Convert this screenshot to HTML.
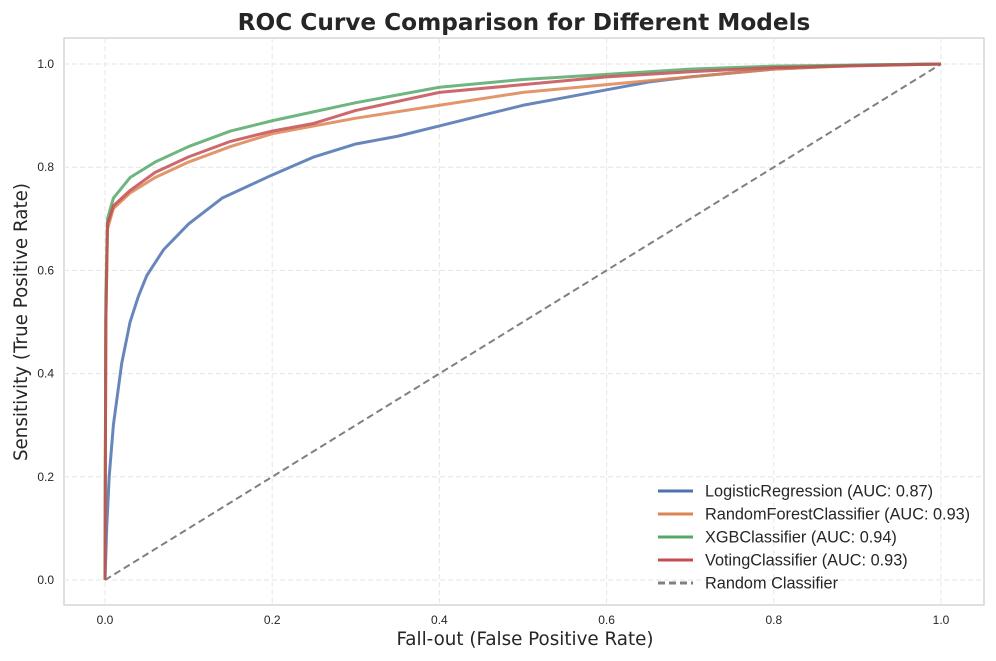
<!DOCTYPE html>
<html><head><meta charset="utf-8"><style>
body{margin:0;background:#fff;font-family:"Liberation Sans",sans-serif}
</style></head><body>
<svg id="c" width="996" height="656" xmlns="http://www.w3.org/2000/svg">
<text x="524" y="30" text-anchor="middle" font-size="23.2" font-weight="bold" fill="#262626" font-family="DejaVu Sans, sans-serif">ROC Curve Comparison for Different Models</text>
<rect x="64" y="38" width="920" height="567" fill="#fff" stroke="#cccccc" stroke-width="1.2"/>
<g id="grid"></g><g id="ticks"></g><g id="series"></g>
<text x="525" y="645" text-anchor="middle" font-size="18.3" fill="#262626" font-family="DejaVu Sans, sans-serif">Fall-out (False Positive Rate)</text>
<text transform="translate(27,322) rotate(-90)" text-anchor="middle" font-size="18.3" fill="#262626" font-family="DejaVu Sans, sans-serif">Sensitivity (True Positive Rate)</text>
<g id="legend"></g>
</svg>
<script>
const xTicks=[0,0.2,0.4,0.6,0.8,1.0];
const yTicks=[0,0.2,0.4,0.6,0.8,1.0];
const names=["LogisticRegression (AUC: 0.87)","RandomForestClassifier (AUC: 0.93)","XGBClassifier (AUC: 0.94)","VotingClassifier (AUC: 0.93)"];
const colors=["#4c72b0","#dd8452","#55a868","#c44e52"];
const lrFpr=[0,0.002,0.005,0.01,0.02,0.03,0.04,0.05,0.07,0.1,0.14,0.2,0.25,0.3,0.35,0.4,0.45,0.5,0.55,0.6,0.65,0.7,0.8,0.9,1];
const lrTpr=[0,0.1,0.2,0.3,0.42,0.5,0.55,0.59,0.64,0.69,0.74,0.785,0.82,0.845,0.86,0.88,0.9,0.92,0.935,0.95,0.965,0.975,0.99,0.998,1];
const rfFpr=[0,0.001,0.003,0.01,0.03,0.06,0.1,0.15,0.2,0.3,0.4,0.5,0.6,0.7,0.8,0.9,1];
const rfTpr=[0,0.5,0.68,0.72,0.75,0.78,0.81,0.84,0.865,0.895,0.92,0.945,0.96,0.975,0.99,0.997,1];
const xgFpr=[0,0.001,0.003,0.01,0.03,0.06,0.1,0.15,0.2,0.3,0.4,0.5,0.6,0.7,0.8,1];
const xgTpr=[0,0.55,0.7,0.74,0.78,0.81,0.84,0.87,0.89,0.925,0.955,0.97,0.98,0.99,0.996,1];
const vcFpr=[0,0.001,0.003,0.01,0.03,0.06,0.1,0.15,0.2,0.25,0.3,0.4,0.5,0.6,0.7,0.8,1];
const vcTpr=[0,0.5,0.69,0.725,0.755,0.79,0.82,0.85,0.87,0.885,0.91,0.945,0.96,0.975,0.985,0.993,1];
const randX=[0,1], randY=[0,1];
const NS="http://www.w3.org/2000/svg";
const X=v=>105+v*836, Y=v=>580-v*516;
function mk(t,a,p){const e=document.createElementNS(NS,t);for(const k in a)e.setAttribute(k,a[k]);document.getElementById(p).appendChild(e);return e;}
xTicks.forEach(t=>{const l=mk('line',{x1:X(t),x2:X(t),y1:38,y2:605,stroke:'#e5e5e5','stroke-dasharray':'5,3'},'grid');

const tx=mk('text',{x:X(t),y:624,'text-anchor':'middle','font-size':12,fill:'#262626'},'ticks');tx.textContent=t.toFixed(1);
});
yTicks.forEach(t=>{const l=mk('line',{x1:64,x2:984,y1:Y(t),y2:Y(t),stroke:'#e5e5e5','stroke-dasharray':'5,3'},'grid');

const tx=mk('text',{x:54,y:Y(t)+4,'text-anchor':'end','font-size':12,fill:'#262626'},'ticks');tx.textContent=t.toFixed(1);
});
const rl=mk('polyline',{points:randX.map((v,i)=>X(v)+','+Y(randY[i])).join(' '),fill:'none',stroke:'#808080','stroke-width':2,'stroke-dasharray':'7,4'},'series');

const S=[[lrFpr,lrTpr],[rfFpr,rfTpr],[xgFpr,xgTpr],[vcFpr,vcTpr]];
const sn=['logistic-regression-curve','random-forest-curve','xgb-curve','voting-curve'];
S.forEach((s,i)=>{const p=mk('polyline',{points:s[0].map((v,j)=>X(v)+','+Y(s[1][j])).join(' '),fill:'none',stroke:colors[i],'stroke-width':3,'stroke-opacity':0.85,'stroke-linejoin':'round'},'series');
});
const labs=names.concat(["Random Classifier"]);
labs.forEach((n,i)=>{const y=491+i*23;
const l=mk('line',{x1:658,x2:693,y1:y,y2:y,stroke:i<4?colors[i]:'#808080','stroke-width':3,'stroke-dasharray':i<4?'none':'7,4'},'legend');

const t=mk('text',{x:705,y:y+5.5,'font-size':16.3,fill:'#262626'},'legend');t.textContent=n;
});
</script>
</body></html>
